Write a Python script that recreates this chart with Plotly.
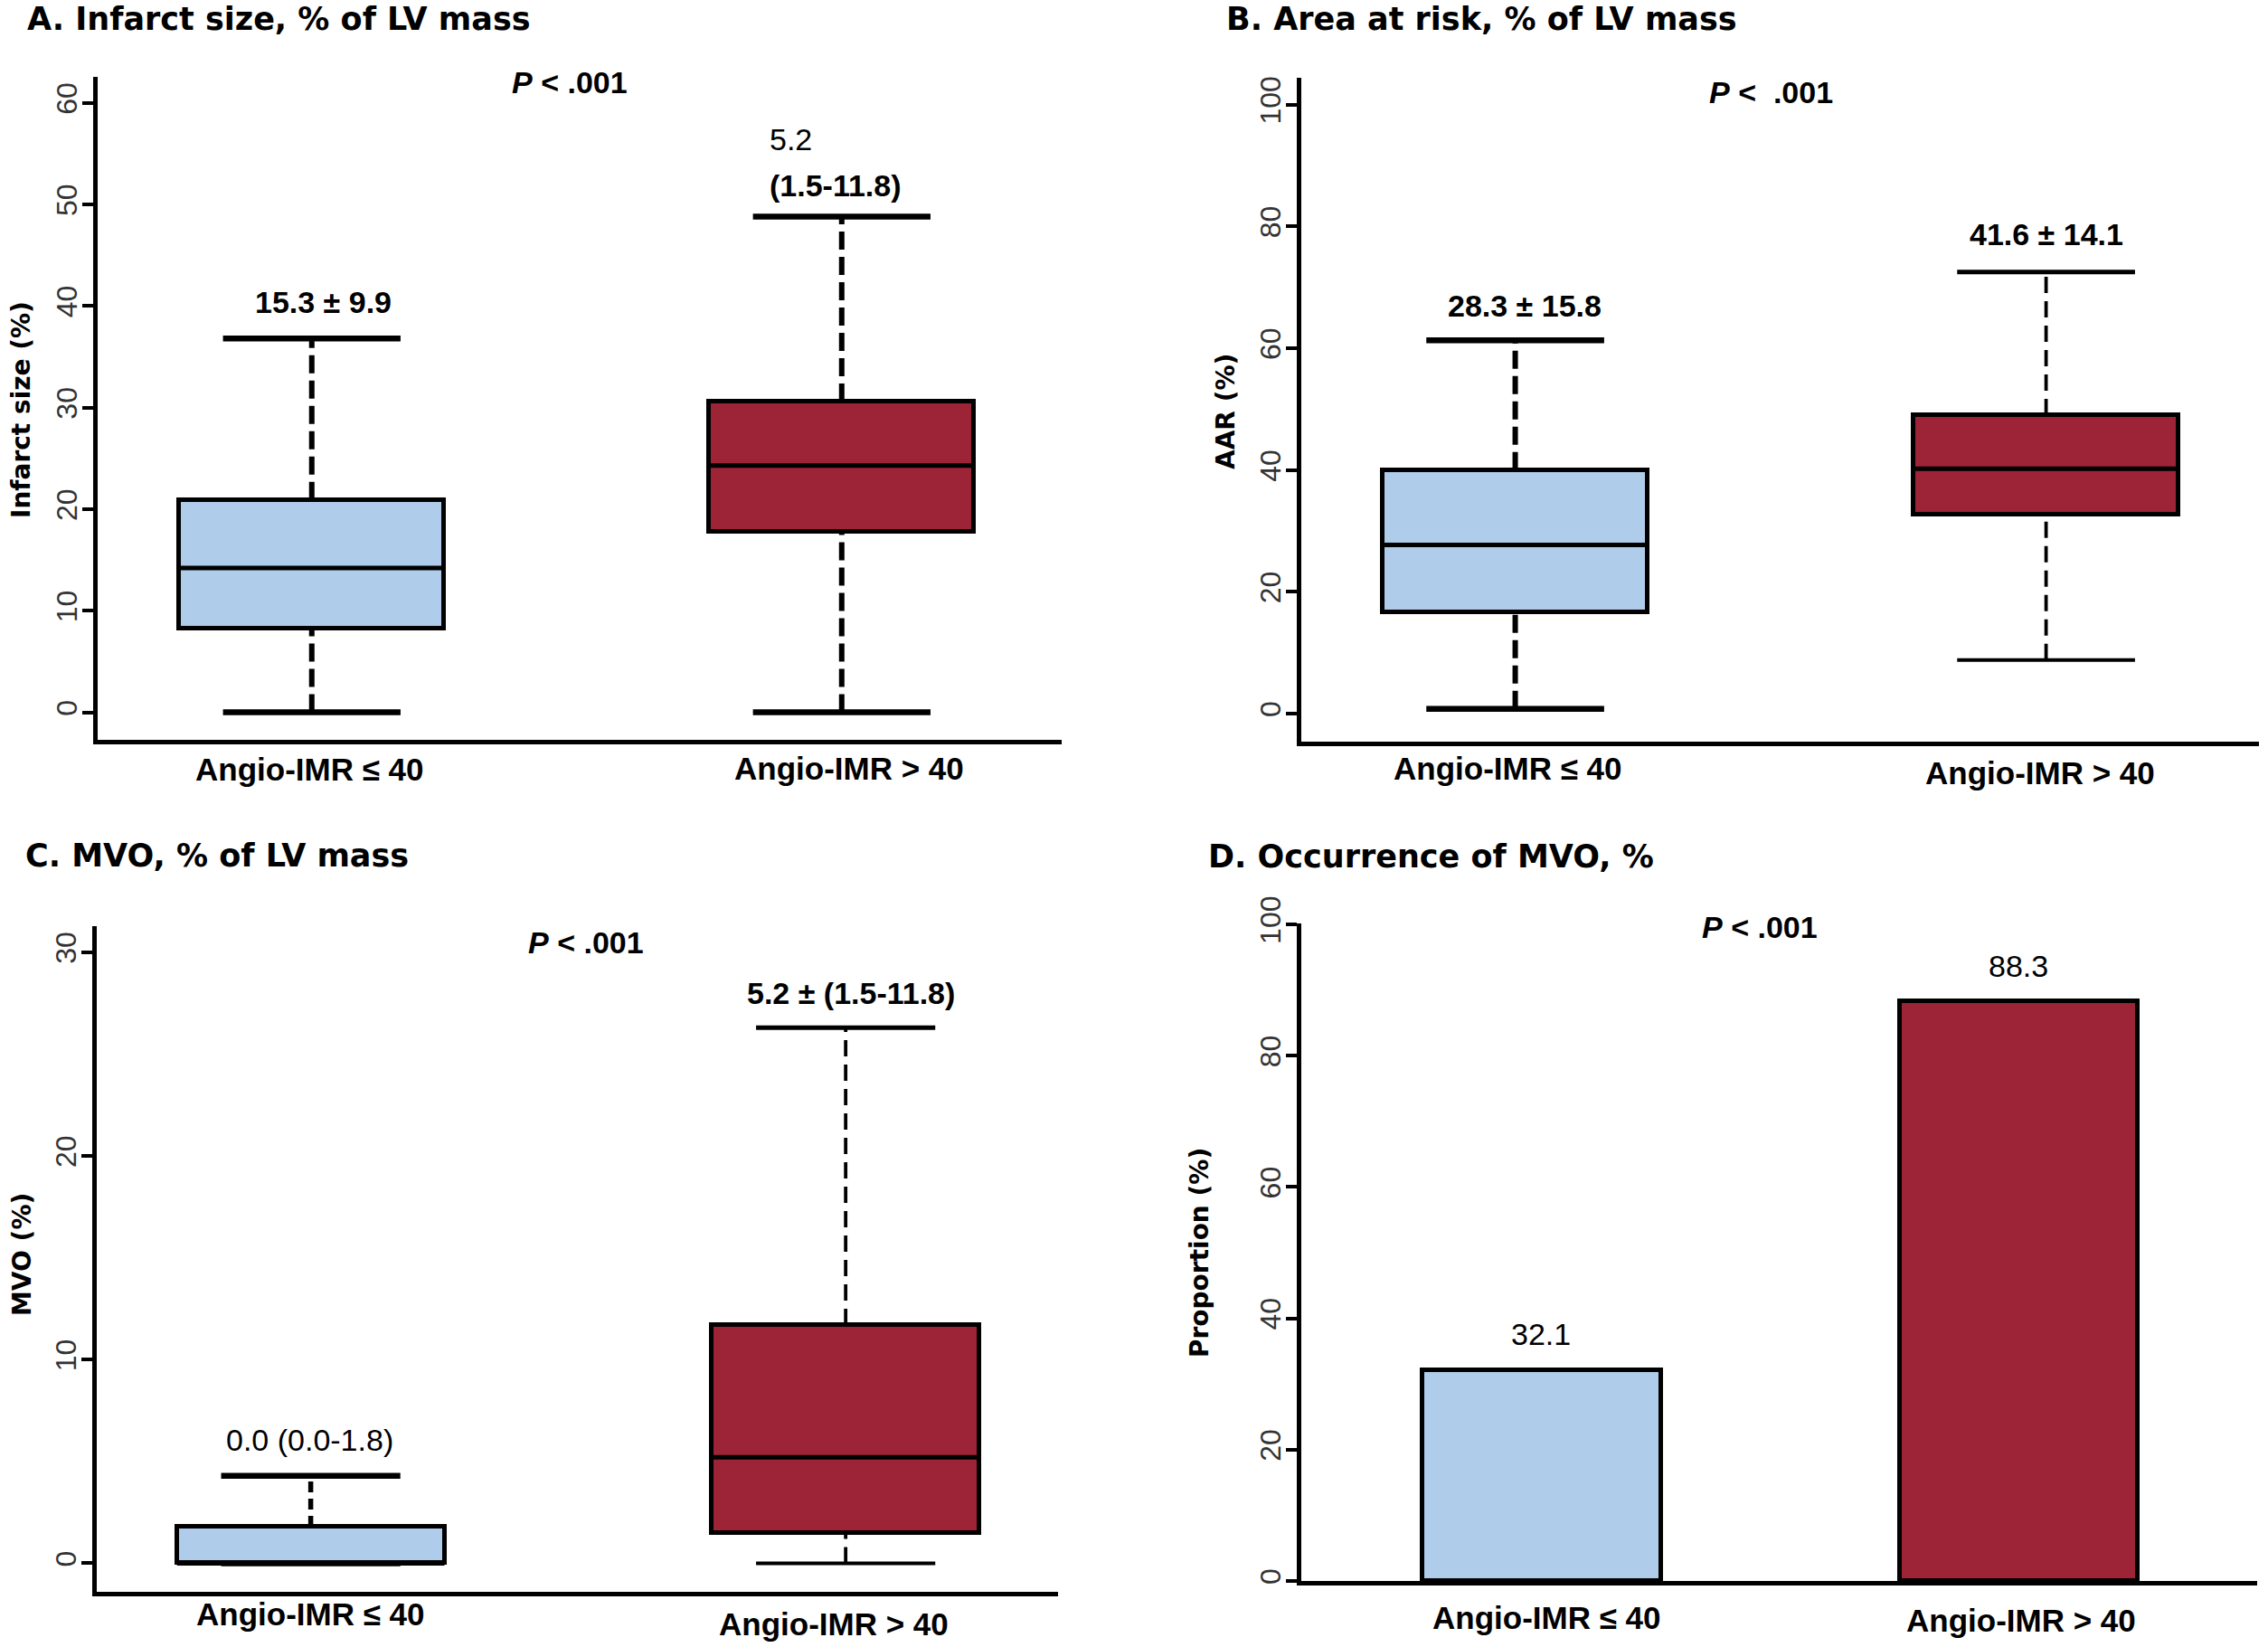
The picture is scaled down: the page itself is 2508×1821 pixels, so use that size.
import plotly.graph_objects as go

W, H = 2508, 1821

# ---------------- data ----------------
groups = ["Angio-IMR ≤ 40", "Angio-IMR > 40"]
group_pos = [0, 1]

# A. Infarct size (% of LV mass)
inf_low = [0.0, 0.0]
inf_q1 = [8.2, 17.8]
inf_med = [14.2, 24.3]
inf_q3 = [20.9, 30.6]
inf_high = [36.8, 48.8]

# B. Area at risk (% of LV mass)
aar_low = [0.8, 8.8]
aar_q1 = [16.6, 32.7]
aar_med = [27.7, 40.2]
aar_q3 = [40.0, 49.0]
aar_high = [61.3, 72.5]

# C. MVO (% of LV mass)
mvo_low = [0.0, 0.0]
mvo_q1 = [0.0, 1.5]
mvo_med = [0.0, 5.2]
mvo_q3 = [1.8, 11.7]
mvo_high = [4.3, 26.3]

# D. Occurrence of MVO (%)
occ = [32.1, 88.3]

panel_titles = ["A. Infarct size, % of LV mass", "B. Area at risk, % of LV mass",
                "C. MVO, % of LV mass", "D. Occurrence of MVO, %"]
y_titles = ["Infarct size (%)", "AAR (%)", "MVO (%)", "Proportion (%)"]
p_text = "<b><i>P</i> &lt; .001</b>"

# ---------------- style ----------------
BLUE = "#AFCDEB"
RED = "#9D2337"
colors = [BLUE, RED]
SANS = "Liberation Sans, Arial, sans-serif"
WIDE = "DejaVu Sans, Verdana, sans-serif"
TXT_UP = 4  # visual centring correction for text (px)

def pxx(x):
    return x / W

def pxy(y):
    return 1 - (y - TXT_UP) / H

def pxy_plain(y):
    return 1 - y / H

# panel plot-area rectangles in pixels (left, right, top, bottom)
rects = {
    "A": (108, 1174, 85, 818),
    "B": (1439, 2498, 86, 820),
    "C": (107, 1170, 1024, 1760),
    "D": (1439, 2496, 1021, 1748),
}
axis_ids = {"A": ("x", "y"), "B": ("x2", "y2"), "C": ("x3", "y3"), "D": ("x4", "y4")}
xranges = {"A": [-0.404, 1.415], "B": [-0.403, 1.401], "C": [-0.40, 1.397], "D": [-0.505, 1.50]}
yranges = {"A": [-2.71, 62.56], "B": [-4.6, 104.4], "C": [-1.40, 31.28], "D": [0, 100.14]}
dticks = {"A": 10, "B": 20, "C": 10, "D": 20}
ymaxtick = {"A": 60, "B": 100, "C": 30, "D": 100}

fig = go.Figure()

BOX_W = 0.5
CAP_W = 0.335

def add_boxes(panel, lo, q1, med, q3, hi, wh_w, cap_w, dash):
    xa, ya = axis_ids[panel]
    fig.add_trace(go.Bar(
        x=group_pos, y=[b - a for a, b in zip(q1, q3)], base=q1, width=BOX_W,
        marker=dict(color=colors, line=dict(color="black", width=5)),
        xaxis=xa, yaxis=ya, showlegend=False, hoverinfo="skip"))
    for i in range(2):
        xc = group_pos[i]
        # whiskers
        fig.add_trace(go.Scatter(x=[xc, xc], y=[q3[i], hi[i]], mode="lines",
                                 line=dict(color="black", width=wh_w[i], dash=dash[i]),
                                 xaxis=xa, yaxis=ya, showlegend=False, hoverinfo="skip"))
        fig.add_trace(go.Scatter(x=[xc, xc], y=[lo[i], q1[i]], mode="lines",
                                 line=dict(color="black", width=wh_w[i], dash=dash[i]),
                                 xaxis=xa, yaxis=ya, showlegend=False, hoverinfo="skip"))
        # caps
        for v, cw in ((hi[i], cap_w[i][0]), (lo[i], cap_w[i][1])):
            fig.add_trace(go.Scatter(x=[xc - CAP_W / 2, xc + CAP_W / 2], y=[v, v], mode="lines",
                                     line=dict(color="black", width=cw),
                                     xaxis=xa, yaxis=ya, showlegend=False, hoverinfo="skip"))
        # median
        fig.add_trace(go.Scatter(x=[xc - BOX_W / 2, xc + BOX_W / 2], y=[med[i], med[i]], mode="lines",
                                 line=dict(color="black", width=5),
                                 xaxis=xa, yaxis=ya, showlegend=False, hoverinfo="skip"))

add_boxes("A", inf_low, inf_q1, inf_med, inf_q3, inf_high,
          [6, 6], [(6.5, 6.5), (6.5, 6.5)], ["20px,8px", "20px,8px"])
add_boxes("B", aar_low, aar_q1, aar_med, aar_q3, aar_high,
          [6, 3.8], [(6.5, 6.5), (5, 4)], ["20px,8px", "18px,9px"])
add_boxes("C", mvo_low, mvo_q1, mvo_med, mvo_q3, mvo_high,
          [5.5, 3.8], [(6.5, 6.5), (5, 4)], ["12px,7px", "18px,9px"])

fig.add_trace(go.Bar(
    x=group_pos, y=occ, width=BOX_W,
    marker=dict(color=colors, line=dict(color="black", width=5)),
    xaxis="x4", yaxis="y4", showlegend=False, hoverinfo="skip"))

# ---------------- axes ----------------
layout_axes = {}
for k, panel in enumerate(["A", "B", "C", "D"]):
    l, r, t, b = rects[panel]
    sfx = "" if k == 0 else str(k + 1)
    vals = list(range(0, ymaxtick[panel] + 1, dticks[panel]))
    layout_axes["xaxis" + sfx] = dict(
        domain=[pxx(l), pxx(r)], range=xranges[panel], anchor="y" + sfx,
        showline=True, linewidth=5, linecolor="black", showgrid=False, zeroline=False,
        ticks="", showticklabels=False, fixedrange=True, automargin=False)
    layout_axes["yaxis" + sfx] = dict(
        domain=[pxy_plain(b), pxy_plain(t)], range=yranges[panel], anchor="x" + sfx,
        showline=True, linewidth=5, linecolor="black", showgrid=False, zeroline=False,
        ticks="outside", ticklen=12, tickwidth=4, tickcolor="black",
        tickmode="array", tickvals=vals, ticktext=[str(v) for v in vals],
        tickangle=-90, tickfont=dict(family=SANS, size=32, color="#333333"),
        ticklabelstandoff=-7, fixedrange=True, automargin=False)

# ---------------- annotations ----------------
ann = []

def paper_text(text, x, y, size, family=SANS, xanchor="center", angle=0, bold=False):
    ann.append(dict(text=f"<b>{text}</b>" if bold else text, x=pxx(x), y=pxy(y),
                    xref="paper", yref="paper", xanchor=xanchor, yanchor="middle",
                    showarrow=False, textangle=angle,
                    font=dict(family=family, size=size, color="black")))

def data_text(text, panel, xi, yv, xshift, yshift, size=34, bold=True):
    xa, ya = axis_ids[panel]
    ann.append(dict(text=f"<b>{text}</b>" if bold else text, x=group_pos[xi], y=yv,
                    xref=xa, yref=ya, xanchor="center", yanchor="middle",
                    xshift=xshift, yshift=yshift + TXT_UP, showarrow=False,
                    font=dict(family=SANS, size=size, color="black")))

# panel titles
paper_text(panel_titles[0], 28, 25, 35, WIDE, "left", bold=True)
paper_text(panel_titles[1], 1354, 25, 35, WIDE, "left", bold=True)
paper_text(panel_titles[2], 26, 950, 35, WIDE, "left", bold=True)
paper_text(panel_titles[3], 1334, 951, 35, WIDE, "left", bold=True)

# y axis titles
paper_text(y_titles[0], 24, 457, 28, WIDE, angle=-90, bold=True)
paper_text(y_titles[1], 1356, 459, 28, WIDE, angle=-90, bold=True)
paper_text(y_titles[2], 24, 1391, 28, WIDE, angle=-90, bold=True)
paper_text(y_titles[3], 1326, 1389, 28, WIDE, angle=-90, bold=True)

# P values
paper_text(p_text, 630, 95, 34)
paper_text("<b><i>P</i> &lt;  .001</b>", 1958, 106, 34)
paper_text(p_text, 648, 1046, 34)
paper_text(p_text, 1946, 1029, 34)

# group labels below the x axes
cat_pos = {
    "A": [(343, 855), (939, 853)],
    "B": [(1667, 853), (2256, 858)],
    "C": [(343, 1788), (922, 1799)],
    "D": [(1710, 1792), (2235, 1795)],
}
centers = {"A": [345, 931], "B": [1675.5, 2262.5], "C": [343.5, 935], "D": [1705, 2232]}
for panel in ["A", "B", "C", "D"]:
    xa, _ = axis_ids[panel]
    for i in range(2):
        cx, cy = cat_pos[panel][i]
        ann.append(dict(text=f"<b>{groups[i]}</b>", x=group_pos[i], y=pxy(cy),
                        xref=xa, yref="paper", xanchor="center", yanchor="middle",
                        xshift=cx - centers[panel][i], showarrow=False,
                        font=dict(family=SANS, size=35, color="black")))

# summary statistics
data_text("15.3 ± 9.9", "A", 0, inf_high[0], 13, 36)
data_text("(1.5-11.8)", "A", 1, inf_high[1], -7, 31)
data_text("5.2", "A", 1, inf_high[1], -56, 82, bold=False)
data_text("28.3 ± 15.8", "B", 0, aar_high[0], 10, 34)
data_text("41.6 ± 14.1", "B", 1, aar_high[1], 0, 38)
data_text("0.0 (0.0-1.8)", "C", 0, mvo_high[0], -1, 36, bold=False)
data_text("5.2 ± (1.5-11.8)", "C", 1, mvo_high[1], 6, 34)
data_text(f"{occ[0]:.1f}", "D", 0, occ[0], -1, 36, bold=False)
data_text(f"{occ[1]:.1f}", "D", 1, occ[1], 0, 35, bold=False)

fig.update_layout(
    width=W, height=H, margin=dict(l=0, r=0, t=0, b=0, pad=0, autoexpand=False),
    paper_bgcolor="white", plot_bgcolor="white",
    showlegend=False, annotations=ann, bargap=0, **layout_axes)

fig.write_html("out.html", config={"displayModeBar": False},
               post_script="document.body.style.margin='0px';")
